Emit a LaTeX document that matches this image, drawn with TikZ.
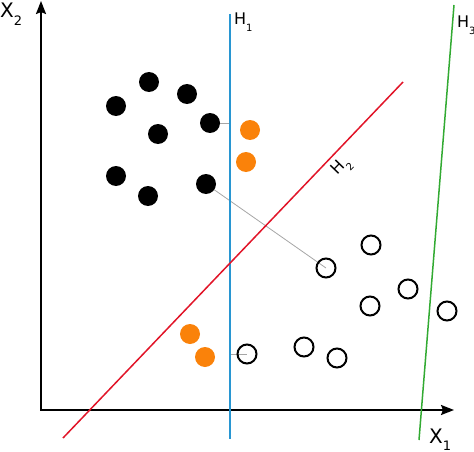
\documentclass[tikz,border=0pt]{standalone}
\usepackage{fontspec}
\setmainfont{DejaVu Sans}
\usetikzlibrary{arrows.meta}
\definecolor{hblue}{RGB}{40,150,210}
\definecolor{hred}{RGB}{225,20,40}
\definecolor{hgreen}{RGB}{50,170,50}
\definecolor{dotorange}{RGB}{250,130,10}
\tikzset{
  axis/.style={line width=2pt,-{Stealth[length=13pt,width=10pt,inset=2pt]}},
  hyper/.style={line width=1.5pt},
  blackdot/.style={circle,fill=black,minimum size=20pt,inner sep=0pt},
  orangedot/.style={circle,fill=dotorange,minimum size=20pt,inner sep=0pt},
  hollowdot/.style={circle,draw=black,line width=2pt,minimum size=19pt,inner sep=0pt},
  gap/.style={draw=gray!70,line width=0.8pt},
  biglabel/.style={inner sep=0pt,font=\fontsize{20}{20}\selectfont},
  hlabel/.style={inner sep=0pt,font=\fontsize{16}{16}\selectfont}
}
\begin{document}
\begin{tikzpicture}[x=1pt,y=-1pt]
\useasboundingbox (0,0) rectangle (474,452);
% axes
\coordinate (origin) at (41,410);
\coordinate (ytip) at (41,1);
\coordinate (xtip) at (454,410);
\draw[axis] (origin) -- (ytip);
\draw[axis] (origin) -- (xtip);
\draw[line width=2pt] (40,410) -- (43,410);
% hyperplanes
\coordinate (h1a) at (230,14);
\coordinate (h1b) at (230,439);
\coordinate (h2a) at (63,438);
\coordinate (h2b) at (403,82);
\coordinate (h3a) at (454,5);
\coordinate (h3b) at (419,440);
% gap lines
\coordinate (g1) at (230,123);
\coordinate (g2) at (230,354);
\draw[gap] (210,123) -- (g1);
\draw[gap] (206,184) -- (326,268);
\draw[gap] (g2) -- (247,354);
\draw[hyper,hblue] (h1a) -- (h1b);
\draw[hyper,hred] (h2a) -- (h2b);
\draw[hyper,hgreen] (h3a) -- (h3b);
% black class
\node[blackdot] (b1) at (149,82) {};
\node[blackdot] (b2) at (187,94) {};
\node[blackdot] (b3) at (116,106) {};
\node[blackdot] (b4) at (158,134) {};
\node[blackdot] (b5) at (210,123) {};
\node[blackdot] (b6) at (116,176) {};
\node[blackdot] (b7) at (148,196) {};
\node[blackdot] (b8) at (206,184) {};
% orange points
\node[orangedot] (o1) at (250,130) {};
\node[orangedot] (o2) at (246,162) {};
\node[orangedot] (o3) at (190,334) {};
\node[orangedot] (o4) at (205,357) {};
% hollow class
\node[hollowdot] (w1) at (371,245) {};
\node[hollowdot] (w2) at (326,268) {};
\node[hollowdot] (w3) at (408,289) {};
\node[hollowdot] (w4) at (370,306) {};
\node[hollowdot] (w5) at (447,311) {};
\node[hollowdot] (w6) at (247,354) {};
\node[hollowdot] (w7) at (304,347) {};
\node[hollowdot] (w8) at (337,358) {};
% labels
\node[biglabel,anchor=base west] (lx2) at (0,18) {X\raisebox{-8pt}{\fontsize{13}{13}\selectfont 2}};
\node[biglabel,anchor=base west] (lx1) at (429,443) {X\raisebox{-7pt}{\fontsize{13}{13}\selectfont 1}};
\node[hlabel,anchor=base west] (lh1) at (234,25) {H\raisebox{-7pt}{\fontsize{10}{10}\selectfont 1}};
\node[hlabel,anchor=base west] (lh3) at (457,28) {H\raisebox{-7pt}{\fontsize{10}{10}\selectfont 3}};
\node[hlabel,rotate=46] (lh2) at (342,167) {H\raisebox{-6pt}{\fontsize{10}{10}\selectfont 2}};
\end{tikzpicture}
\end{document}
